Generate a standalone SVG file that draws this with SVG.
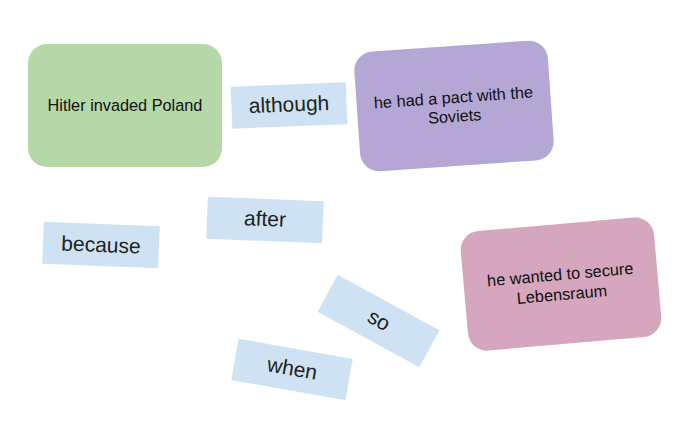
<svg xmlns="http://www.w3.org/2000/svg" width="692" height="429" viewBox="0 0 692 429">
<style>
.box{stroke:none}
.lbl{fill:#cfe2f3}
.bt{font-family:"Liberation Sans",Arial,sans-serif;font-size:16.3px;fill:#111;text-anchor:middle}
.lt{font-family:"Liberation Sans",Arial,sans-serif;font-size:21px;fill:#222;text-anchor:middle}
</style>
<rect width="692" height="429" fill="#ffffff"/>
<g id="connectors"></g>
<g id="node-hitler">
<rect class="box" x="28" y="44" width="194" height="123" rx="19" fill="#b6d7a8"/>
<text class="bt" x="125" y="111">Hitler invaded Poland</text>
</g>
<g id="node-pact" transform="translate(454,106) rotate(-4)">
<rect class="box" x="-97" y="-60" width="194" height="120" rx="19" fill="#b4a7d6"/>
<text class="bt" x="0" y="-3">he had a pact with the</text>
<text class="bt" x="0" y="16">Soviets</text>
</g>
<g id="node-lebensraum" transform="translate(561,284) rotate(-5)">
<rect class="box" x="-97" y="-60" width="194" height="120" rx="19" fill="#d5a6bd"/>
<text class="bt" x="0" y="-4">he wanted to secure</text>
<text class="bt" x="0" y="16">Lebensraum</text>
</g>
<g id="label-although" transform="translate(289,105.5) rotate(-2.2)">
<rect class="lbl" x="-57.5" y="-21" width="115" height="42"/>
<text class="lt" x="0" y="6">although</text>
</g>
<g id="label-because" transform="translate(101,245) rotate(2.3)">
<rect class="lbl" x="-58" y="-21" width="116" height="42"/>
<text class="lt" x="0" y="7">because</text>
</g>
<g id="label-after" transform="translate(265,220) rotate(2.3)">
<rect class="lbl" x="-58" y="-21" width="116" height="42"/>
<text class="lt" x="0" y="6">after</text>
</g>
<g id="label-so" transform="translate(378.5,321) rotate(28.6)">
<rect class="lbl" x="-58" y="-21" width="116" height="42"/>
<text class="lt" x="0" y="6">so</text>
</g>
<g id="label-when" transform="translate(292,369.5) rotate(10)">
<rect class="lbl" x="-58" y="-21" width="116" height="42"/>
<text class="lt" x="0" y="6">when</text>
</g>
</svg>
